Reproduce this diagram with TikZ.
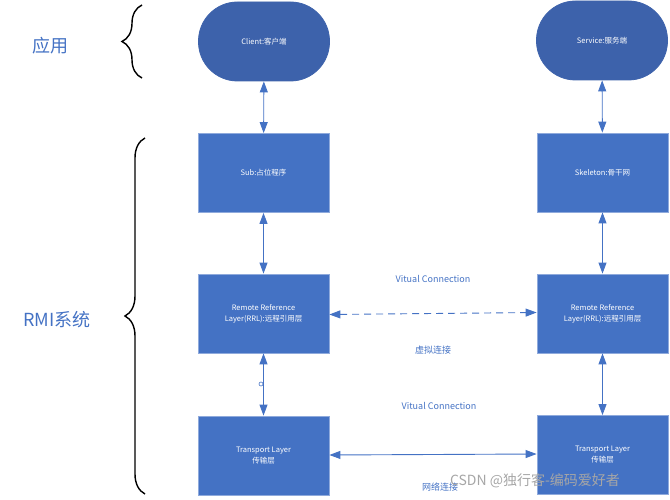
\documentclass[tikz,border=0pt]{standalone}
\usepackage{fontspec}
\setmainfont{Noto Sans CJK SC}
\usetikzlibrary{decorations.pathreplacing,arrows.meta}
\definecolor{bx}{HTML}{4472C4}
\definecolor{rb}{HTML}{3D62AB}
\begin{document}
\begin{tikzpicture}[x=1pt,y=-1pt,
  box/.style={draw=bx!60!white,line width=0.8pt,fill=bx,minimum width=131pt,minimum height=79pt,text=white,align=center,font=\fontsize{7.5}{11}\selectfont},
  term/.style={box,fill=rb,draw=rb,rounded corners=39pt},
  arr/.style={draw=bx,line width=0.9pt,{Triangle[length=11pt,width=8pt]}-{Triangle[length=11pt,width=8pt]}},
  lab/.style={text=bx,font=\fontsize{9}{11}\selectfont},
  big/.style={text=bx,font=\fontsize{18}{20}\selectfont},
  br/.style={decorate,decoration={brace,amplitude=20pt},line width=1.4pt}]
\useasboundingbox (0,0) rectangle (670,500);
\node[term] (cl) at (264,41.5) {Client:客户端};
\node[term] (sv) at (602,40.5) {Service:服务端};
\node[box] (sub) at (263.5,173) {Sub:占位程序};
\node[box] (sk) at (602.5,172.5) {Skeleton:骨干网};
\node[box] (rl) at (263.5,313.5) {Remote Reference\\Layer(RRL):远程引用层};
\node[box] (rr) at (602.5,313.5) {Remote Reference\\Layer(RRL):远程引用层};
\node[box] (tl) at (263.5,455.5) {Transport Layer\\传输层};
\node[box] (tr) at (602.5,455) {Transport Layer\\传输层};
\draw[arr] (cl) -- (sub);
\draw[arr] (sv) -- (sk);
\draw[arr] (sub) -- (rl);
\draw[arr] (sk) -- (rr);
\draw[arr] (rl) -- (tl);
\draw[arr] (rr) -- (tr);
\draw[arr,dash pattern=on 7pt off 5pt] (rl.east) ++(0,1) -- ([yshift=1pt]rr.west);
\draw[arr] ([yshift=0.5pt]tl.east) -- ([yshift=1pt]tr.west);
\draw[bx,line width=0.6pt] (261,384) circle (2pt);
\node[lab] (v1) at (433,279) {Vitual Connection};
\node[lab] (x1) at (433,350) {虚拟连接};
\node[lab] (v2) at (439,406) {Vitual Connection};
\node[lab] (x2) at (440,487) {网络连接};
\node[text=gray!70,font=\fontsize{14}{16}\selectfont] (wm) at (535,481) {CSDN @独行客-编码爱好者};
\node[big] (yy) at (50,46) {应用};
\node[big] (rmi) at (57,320) {RMI系统};
\draw[br] (142,78) -- (142,5);
\draw[br] (145,494) -- (145,138);
\end{tikzpicture}
\end{document}
